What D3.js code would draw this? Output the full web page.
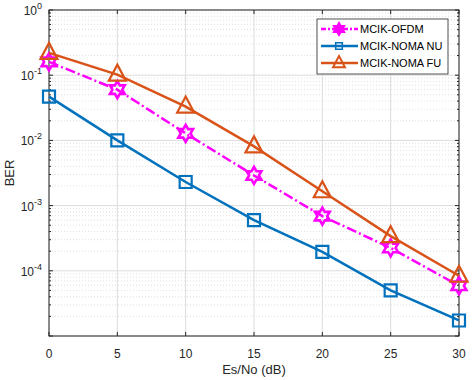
<!DOCTYPE html>
<html>
<head>
<meta charset="utf-8">
<script src="https://cdn.jsdelivr.net/npm/d3@7"></script>
<style>
  body { margin: 0; background: #fff; }
  text { font-family: "Liberation Sans", Arial, sans-serif; }
</style>
</head>
<body>
<svg id="chart" width="474" height="380"></svg>
<script>
// data
var snr = [0, 5, 10, 15, 20, 25, 30];
var berOfdm = [0.16, 0.060, 0.0128, 0.0029, 6.9e-4, 2.24e-4, 5.9e-5];
var berNu = [0.047, 0.0100, 0.0023, 6.0e-4, 1.95e-4, 5.0e-5, 1.73e-5];
var berFu = [0.22, 0.102, 0.033, 0.0081, 0.00166, 3.4e-4, 8.4e-5];
var seriesNames = ["MCIK-OFDM", "MCIK-NOMA NU", "MCIK-NOMA FU"];
var xTicks = [0, 5, 10, 15, 20, 25, 30];
var yTicks = [0, -1, -2, -3, -4];

var svg = d3.select("#chart");
var pL = 49, pR = 459, pT = 10, pB = 336;

var x = d3.scaleLinear().domain([0, 30]).range([pL, pR]);
var y = d3.scaleLog().domain([1e-5, 1]).range([pB, pT]);

// grid
var grid = svg.append("g");
// minor y grid
for (var e = -5; e < 0; e++) {
    for (var m = 2; m <= 9; m++) {
        var v = m * Math.pow(10, e);
        grid.append("line")
            .attr("x1", pL).attr("x2", pR)
            .attr("y1", y(v)).attr("y2", y(v))
            .attr("stroke", "#d8d8d8").attr("stroke-width", 0.8)
            .attr("stroke-dasharray", "1,2");
    }
}
yTicks.concat([-5]).forEach(function(e) {
    grid.append("line")
        .attr("x1", pL).attr("x2", pR)
        .attr("y1", y(Math.pow(10, e))).attr("y2", y(Math.pow(10, e)))
        .attr("stroke", "#dcdcdc").attr("stroke-width", 1);
});
xTicks.forEach(function(t) {
    grid.append("line")
        .attr("x1", x(t)).attr("x2", x(t))
        .attr("y1", pT).attr("y2", pB)
        .attr("stroke", "#dcdcdc").attr("stroke-width", 1);
});

// axes box + ticks
var ax = svg.append("g").attr("stroke", "#262626").attr("stroke-width", 1);
ax.append("rect").attr("x", pL).attr("y", pT)
    .attr("width", pR - pL).attr("height", pB - pT)
    .attr("fill", "none");
xTicks.forEach(function(t) {
    ax.append("line").attr("x1", x(t)).attr("x2", x(t)).attr("y1", pB).attr("y2", pB - 4);
    ax.append("line").attr("x1", x(t)).attr("x2", x(t)).attr("y1", pT).attr("y2", pT + 4);
});
for (var e2 = -5; e2 <= 0; e2++) {
    var yy = y(Math.pow(10, e2));
    ax.append("line").attr("x1", pL).attr("x2", pL + 4).attr("y1", yy).attr("y2", yy);
    ax.append("line").attr("x1", pR).attr("x2", pR - 4).attr("y1", yy).attr("y2", yy);
    if (e2 < 0) {
        for (var m2 = 2; m2 <= 9; m2++) {
            var ym = y(m2 * Math.pow(10, e2));
            ax.append("line").attr("x1", pL).attr("x2", pL + 2).attr("y1", ym).attr("y2", ym);
            ax.append("line").attr("x1", pR).attr("x2", pR - 2).attr("y1", ym).attr("y2", ym);
        }
    }
}

// tick labels
svg.selectAll(".xt").data(xTicks).enter().append("text")
    .attr("x", d => x(d)).attr("y", 358)
    .attr("text-anchor", "middle").attr("font-size", 12).attr("fill", "#262626")
    .text(d => d);

yTicks.forEach(function(e) {
    var t = svg.append("text")
        .attr("x", 42).attr("y", y(Math.pow(10, e)) + 5)
        .attr("text-anchor", "end").attr("font-size", 12).attr("fill", "#262626");
    t.append("tspan").text("10");
    t.append("tspan").attr("font-size", 9).attr("dy", -6).text(e);
});

svg.append("text").attr("x", (pL + pR) / 2).attr("y", 374)
    .attr("text-anchor", "middle").attr("font-size", 13).attr("fill", "#262626")
    .text("Es/No (dB)");
svg.append("text").attr("transform", "translate(14," + ((pT + pB) / 2) + ") rotate(-90)")
    .attr("text-anchor", "middle").attr("font-size", 13).attr("fill", "#262626")
    .text("BER");

// markers
function hexagram(R) {
    var pts = [];
    for (var i = 0; i < 12; i++) {
        var a = -Math.PI / 2 + i * Math.PI / 6;
        var r = (i % 2 === 0) ? R : R / Math.sqrt(3);
        pts.push([r * Math.cos(a), r * Math.sin(a)]);
    }
    return "M" + pts.map(p => p[0].toFixed(2) + "," + p[1].toFixed(2)).join("L") + "Z";
}
var series = [
    { name: seriesNames[0], vals: berOfdm, color: "#ff00ff", dash: "10,3,2,3",
      marker: hexagram(8.5), sw: 2.6 },
    { name: seriesNames[1], vals: berNu, color: "#0072bd", dash: null,
      marker: "M-6,-6L6,-6L6,6L-6,6Z", sw: 2.2 },
    { name: seriesNames[2], vals: berFu, color: "#d95319", dash: null,
      marker: "M0,-10L8.5,6L-8.5,6Z", sw: 2.2 }
];

var line = d3.line().x((d, i) => x(snr[i])).y(d => y(d));

series.forEach(function(s) {
    var g = svg.append("g");
    g.append("path").datum(s.vals).attr("d", line)
        .attr("fill", "none").attr("stroke", s.color).attr("stroke-width", 2.5)
        .attr("stroke-dasharray", s.dash);
    g.selectAll("path.mk").data(s.vals).enter().append("path")
        .attr("class", "mk")
        .attr("d", s.marker)
        .attr("transform", (d, i) => "translate(" + x(snr[i]) + "," + y(d) + ")")
        .attr("fill", "none").attr("stroke", s.color).attr("stroke-width", s.sw);
});

// legend
var lg = svg.append("g");
lg.append("rect").attr("x", 317).attr("y", 19).attr("width", 131).attr("height", 55)
    .attr("fill", "#fff").attr("stroke", "#262626").attr("stroke-width", 0.8);
series.forEach(function(s, i) {
    var ly = 29 + i * 17;
    lg.append("line").attr("x1", 321).attr("x2", 358).attr("y1", ly).attr("y2", ly)
        .attr("stroke", s.color).attr("stroke-width", 2.5)
        .attr("stroke-dasharray", s.dash ? "5,2,2,2" : null);
    lg.append("path").attr("d", s.marker)
        .attr("transform", "translate(339," + ly + ") scale(" + (i === 1 ? 0.55 : 0.7) + ")")
        .attr("fill", i === 0 ? s.color : "none").attr("stroke", s.color).attr("stroke-width", 2.8);
    lg.append("text").attr("x", 360).attr("y", ly + 4)
        .attr("font-size", 11).attr("fill", "#000").text(s.name);
});
</script>
</body>
</html>
